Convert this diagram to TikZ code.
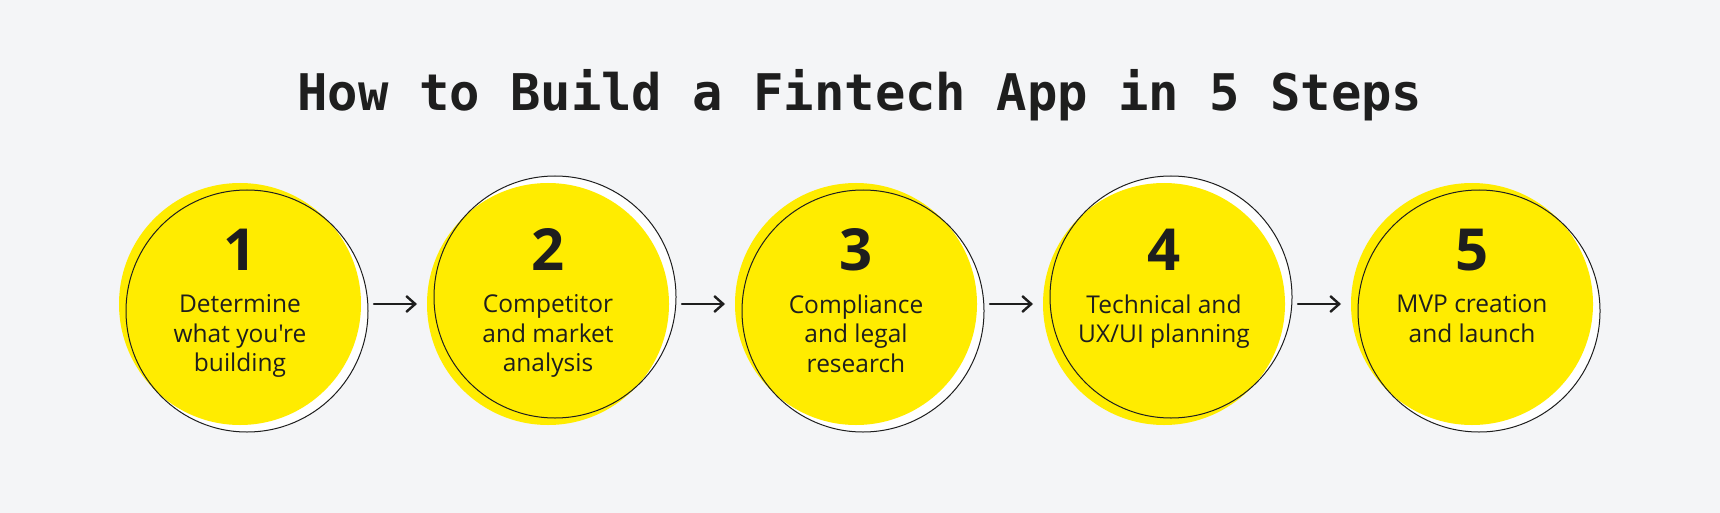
\documentclass[tikz,border=0pt]{standalone}
\usepackage{fontspec}
\setmainfont{Open Sans}[Ligatures=TeXOff]
\newfontfamily\titlefont{DejaVu Sans Mono}
\usetikzlibrary{arrows.meta,calc}
\definecolor{bgc}{HTML}{F4F5F7}
\definecolor{sun}{HTML}{FFEC00}
\definecolor{ink}{HTML}{1E1E1E}
\begin{document}
\begin{tikzpicture}[x=1pt,y=-1pt,>={Straight Barb[length=9pt,width=16pt]},line join=round,line cap=round,
	disc/.style={circle,minimum size=242pt,inner sep=0pt,outer sep=0pt},
	num/.style={anchor=base,text=ink,font=\bfseries\fontsize{58}{60}\selectfont},
	lbl/.style={anchor=north,align=center,inner sep=0pt,text=ink,font=\fontsize{24.5}{29.5}\selectfont,execute at begin node=\strut}]
			\fill[bgc] (0,0) rectangle (1720,513);
			\useasboundingbox (0,0) rectangle (1720,513);
			\node[anchor=base,text=ink,font=\titlefont\bfseries\fontsize{50.5}{55}\selectfont] (title) at (860,110.7) {How to Build a Fintech App in 5 Steps};
			% white backing, yellow disc, thin ring on top
			\foreach \i/\s/\t in {1/1/{Determine\\what you're\\building},2/-1/{Competitor\\and market\\analysis},3/1/{Compliance\\and legal\\research},4/-1/{Technical and\\UX/UI planning},5/1/{MVP creation\\and launch}}
			{
			\path ({240+308*(\i-1)},304) coordinate (p\i);
			\node[disc,fill=white] (w\i) at ($(p\i)+(7,7*\s)$) {};
			\node[disc,fill=sun] (c\i) at (p\i) {};
			\node[disc,draw=ink,line width=1pt] (r\i) at (w\i) {};
			\node[num] (n\i) at ($(p\i)+(0,-34)$) {\i};
			\node[lbl] (t\i) at ($(p\i)+(0,-9.5)$) {\t};
			}
			\foreach \i/\j in {1/2,2/3,3/4,4/5}
			\draw[->,ink,line width=2.4pt,shorten <=13pt,shorten >=10pt] (c\i) -- (c\j);
	\end{tikzpicture}
\end{document}
